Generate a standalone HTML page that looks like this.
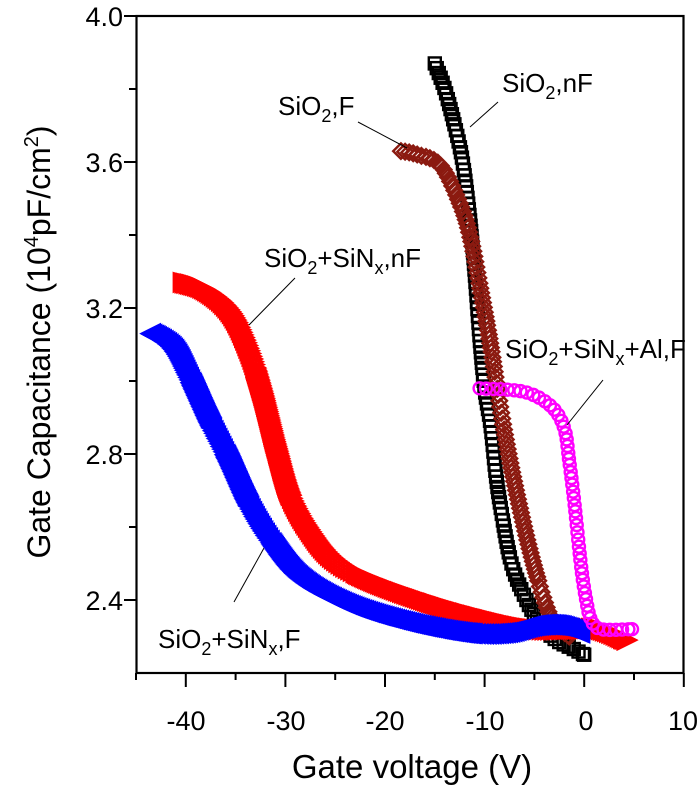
<!DOCTYPE html>
<html><head><meta charset="utf-8"><style>
html,body{margin:0;padding:0;background:#fff;}
svg{display:block;font-family:"Liberation Sans",Arial,sans-serif;}
</style></head><body>
<svg id="s" width="700" height="791" viewBox="0 0 700 791" xmlns="http://www.w3.org/2000/svg">
<g id="data"></g>
<g stroke="#000" stroke-width="2.2" fill="none">
<rect x="136.5" y="16" width="547" height="657"/>
</g>
<g id="ticks" stroke="#000" stroke-width="2"></g>
<g font-size="27" fill="#000" text-anchor="end">
<text x="123" y="610">2.4</text>
<text x="123" y="464">2.8</text>
<text x="123" y="318">3.2</text>
<text x="123" y="172">3.6</text>
<text x="123" y="26">4.0</text>
</g>
<g font-size="27" fill="#000" text-anchor="middle">
<text x="186" y="730">-40</text>
<text x="286" y="730">-30</text>
<text x="385" y="730">-20</text>
<text x="485" y="730">-10</text>
<text x="586" y="730">0</text>
<text x="683" y="730">10</text>
</g>
<text x="412" y="778" font-size="33" text-anchor="middle">Gate voltage (V)</text>
<text transform="translate(50,342) rotate(-90)" font-size="32" text-anchor="middle">Gate Capacitance (10<tspan dy="-12" font-size="20">4</tspan><tspan dy="12">pF/cm</tspan><tspan dy="-12" font-size="20">2</tspan><tspan dy="12">)</tspan></text>
<g stroke="#000" stroke-width="1">
<line x1="498" y1="102" x2="470" y2="127"/>
<line x1="358" y1="122" x2="407" y2="148"/>
<line x1="295" y1="278" x2="249" y2="325"/>
<line x1="603" y1="380" x2="567" y2="425"/>
<line x1="234" y1="602" x2="264" y2="548"/>
</g>
<g font-size="26" fill="#000">
<text x="502" y="92">SiO<tspan font-size="18" dy="7">2</tspan><tspan dy="-7">,nF</tspan></text>
<text x="278" y="115">SiO<tspan font-size="18" dy="7">2</tspan><tspan dy="-7">,F</tspan></text>
<text x="264" y="267">SiO<tspan font-size="18" dy="7">2</tspan><tspan dy="-7">+SiN</tspan><tspan font-size="18" dy="7">x</tspan><tspan dy="-7">,nF</tspan></text>
<text x="505" y="358">SiO<tspan font-size="18" dy="7">2</tspan><tspan dy="-7">+SiN</tspan><tspan font-size="18" dy="7">x</tspan><tspan dy="-7">+Al,F</tspan></text>
<text x="158" y="648">SiO<tspan font-size="18" dy="7">2</tspan><tspan dy="-7">+SiN</tspan><tspan font-size="18" dy="7">x</tspan><tspan dy="-7">,F</tspan></text>
</g>
</svg>
<script>
(function(){
var NS="http://www.w3.org/2000/svg";
function X(v){return 136+(v+45)*9.96;}
function Y(c){return 16+(4-c)*365;}
var t=document.getElementById('ticks');
function ln(x1,y1,x2,y2){var l=document.createElementNS(NS,'line');l.setAttribute('x1',x1);l.setAttribute('y1',y1);l.setAttribute('x2',x2);l.setAttribute('y2',y2);t.appendChild(l);}
for(var v=-45;v<=10;v+=5){var x=X(v);ln(x,673,x,(v%10===0)?687:680);}
for(var c=2.4;c<=4.01;c+=0.2){var y=Y(c);var maj=Math.abs(Math.round(c*10)%4)<0.5;ln(136,y,maj?124:129,y);}
var g=document.getElementById('data');
function mk(type,x,y,s,col){
 var e;
 if(type==='sq'){e=document.createElementNS(NS,'rect');e.setAttribute('x',x-s/2);e.setAttribute('y',y-s/2);e.setAttribute('width',s);e.setAttribute('height',s);}
 else if(type==='ci'){e=document.createElementNS(NS,'circle');e.setAttribute('cx',x);e.setAttribute('cy',y);e.setAttribute('r',s/2);}
 else{var p;var h=s/2;
  if(type==='di')p=[[x,y-h*1.1],[x+h*1.1,y],[x,y+h*1.1],[x-h*1.1,y]];
  else if(type==='tr')p=[[x+h,y],[x-h,y-h],[x-h,y+h]];
  else p=[[x-h,y],[x+h,y-h],[x+h,y+h]];
  e=document.createElementNS(NS,'polygon');e.setAttribute('points',p.map(function(q){return q[0].toFixed(1)+','+q[1].toFixed(1)}).join(' '));}
 e.setAttribute('fill','none');e.setAttribute('stroke',col);e.setAttribute('stroke-width','2.4');g.appendChild(e);
}
function series(pts,type,s,col,step){
 var P=pts.map(function(p){return [X(p[0]),Y(p[1])];});
 var dense=[];
 for(var i=0;i<P.length-1;i++){
  var p0=P[Math.max(0,i-1)],p1=P[i],p2=P[i+1],p3=P[Math.min(P.length-1,i+2)];
  for(var k=0;k<30;k++){var u=k/30,u2=u*u,u3=u2*u;
   var f=function(a,b,c,d){return 0.5*((2*b)+(-a+c)*u+(2*a-5*b+4*c-d)*u2+(-a+3*b-3*c+d)*u3);};
   dense.push([f(p0[0],p1[0],p2[0],p3[0]),f(p0[1],p1[1],p2[1],p3[1])]);}
 }
 dense.push(P[P.length-1]);
 var acc=0;mk(type,dense[0][0],dense[0][1],s,col);
 for(var j=1;j<dense.length;j++){var dx=dense[j][0]-dense[j-1][0],dy=dense[j][1]-dense[j-1][1];acc+=Math.sqrt(dx*dx+dy*dy);
  if(acc>=step){acc=0;mk(type,dense[j][0],dense[j][1],s,col);}}
 var L=dense[dense.length-1];mk(type,L[0],L[1],s,col);
}
series([[-15,3.87],[-14,3.80],[-13,3.70],[-12.2,3.6],[-11.5,3.45],[-11.0,3.3],[-10.5,3.12],[-10.0,2.98],[-9.4,2.88],[-8.9,2.75],[-8.3,2.64],[-7.3,2.5],[-5.8,2.4],[-4.3,2.33],[-2.8,2.29],[-1,2.265],[0,2.25]],'sq',12,'#000',5);
series([[-18.4,3.63],[-16.7,3.62],[-14.4,3.59],[-12.4,3.48],[-11.4,3.39],[-10.4,3.25],[-9.6,3.13],[-9.3,3.08],[-8.0,2.86],[-6.6,2.67],[-5.0,2.49],[-3.3,2.35],[-1.5,2.30]],'di',14,'#8b1a10',4);
series([[-40.3,3.27],[-38,3.25],[-35.5,3.19],[-33.7,3.09],[-32.3,2.97],[-30.9,2.82],[-29.5,2.69],[-27.5,2.59],[-25,2.51],[-21,2.45],[-15,2.39],[-10,2.35],[-5,2.32],[-1,2.32],[1.5,2.32],[4.3,2.29]],'tr',18,'#ff0000',1.5);
series([[-43.5,3.13],[-41.3,3.09],[-39.7,3.01],[-37.7,2.89],[-35.7,2.78],[-33.7,2.66],[-31.5,2.56],[-28.5,2.46],[-24,2.39],[-18,2.34],[-12,2.31],[-8,2.31],[-5,2.33],[-2.5,2.33],[-0.4,2.31]],'tl',18,'#0000ff',1.5);
series([[-10.5,2.98],[-6,2.97],[-3.3,2.93],[-2,2.87],[-1.5,2.78],[-1,2.67],[-0.3,2.49],[0.2,2.4],[0.7,2.345],[1.7,2.32],[4.8,2.32]],'ci',12,'#ff00ff',6);
})();
</script>
</body></html>
